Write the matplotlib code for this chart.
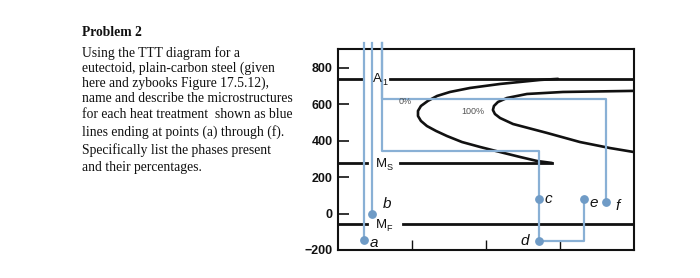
import matplotlib
matplotlib.use("Agg")
import matplotlib.pyplot as plt

# ---------------- data ----------------
# Transformation start curve (0%): time (s), temperature (deg C)
start_time = [940, 537, 155, 60.8, 32.6, 21.8, 16.4, 13.2, 12.05, 12.05, 13.2, 15.9,
              21.1, 29.7, 47.4, 83, 155, 288, 489, 780]
start_temp = [740, 734, 712, 690, 668, 646, 619, 591, 564, 536, 509, 481,
              454, 426, 393, 366, 338, 311, 289, 278]
# Transformation finish curve (100%)
finish_time = [10000, 1099, 358, 192, 145, 128, 124, 132, 155, 232, 667, 1862, 4740, 10000]
finish_temp = [674, 668, 657, 635, 613, 591, 569, 547, 525, 492, 443, 393, 360, 338]

A1_temp = 740
Ms_temp = 280
Mf_temp = -55
A1_segments = [(1.0, 2.2), (5.0, 10000)]
Ms_segments = [(1.0, 2.45), (6.9, 780)]
Mf_segments = [(1.0, 2.45), (7.6, 10000)]

# Cooling paths (time s, temperature C)
path_a_time = [2.24, 2.24]
path_a_temp = [937, -145]
path_b_time = [2.88, 2.88]
path_b_temp = [937, 0]
path_f_time = [3.94, 3.94, 4190, 4190]
path_f_temp = [937, 630, 630, 64]
path_cd_time = [3.94, 3.94, 520, 520]
path_cd_temp = [937, 344, 344, -150]
path_e_time = [520, 2110, 2110]
path_e_temp = [-150, -150, 80]

point_names = ["a", "b", "c", "d", "e", "f"]
point_time = [2.24, 2.88, 520, 520, 2110, 4190]
point_temp = [-145, 0, 80, -150, 80, 64]
label_offsets = [(4, -2), (8, 7), (4, 0), (-7, 0), (4, -3), (7, -3)]
label_ha = ["left", "left", "left", "right", "left", "left"]

yticks = [800, 600, 400, 200, 0, -200]
xticks = [10, 100, 1000]

problem_title = "Problem 2"
problem_lines = [
    "Using the TTT diagram for a",
    "eutectoid, plain-carbon steel (given",
    "here and zybooks Figure 17.5.12),",
    "name and describe the microstructures",
    "for each heat treatment  shown as blue",
    "lines ending at points (a) through (f).",
    "Specifically list the phases present",
    "and their percentages.",
]
line_px = [53, 68, 83, 99, 115, 132, 150, 167]

# ---------------- figure ----------------
W, H = 700, 278
fig = plt.figure(figsize=(W / 100, H / 100), dpi=100)
ax = fig.add_axes([338 / W, (H - 250) / H, (634 - 338) / W, (250 - 49) / H])

ax.set_xscale("log")
ax.set_xlim(1, 10000)
ax.set_ylim(-200, 904)

blue = "#89b0d5"
dotc = "#6f9bc6"
black = "#111111"

ax.plot(start_time, start_temp, color=black, lw=1.9, solid_capstyle="round", solid_joinstyle="round")
ax.plot(finish_time, finish_temp, color=black, lw=1.9, solid_capstyle="round", solid_joinstyle="round")
for x0, x1 in A1_segments:
    ax.plot([x0, x1], [A1_temp, A1_temp], color=black, lw=2.0)
for x0, x1 in Ms_segments:
    ax.plot([x0, x1], [Ms_temp, Ms_temp], color=black, lw=2.0)
for x0, x1 in Mf_segments:
    ax.plot([x0, x1], [Mf_temp, Mf_temp], color=black, lw=2.0)

for tt, TT in [(path_a_time, path_a_temp), (path_b_time, path_b_temp),
               (path_f_time, path_f_temp), (path_cd_time, path_cd_temp),
               (path_e_time, path_e_temp)]:
    ax.plot(tt, TT, color=blue, lw=1.6, clip_on=False, zorder=3)

ax.scatter(point_time, point_temp, s=28, color=dotc, zorder=4, clip_on=False)
for n, t, T, off, ha in zip(point_names, point_time, point_temp, label_offsets, label_ha):
    ax.annotate(n, (t, T), xytext=off, textcoords="offset points", ha=ha, va="center",
                fontsize=11, style="italic", family="Liberation Sans", color="#111111")

lab_font = dict(family="Liberation Sans", color="#111111")
ax.text(3.0, A1_temp, "A", fontsize=9.5, ha="left", va="center", **lab_font)
ax.text(3.95, A1_temp - 22, "1", fontsize=6.5, ha="left", va="center", **lab_font)
ax.text(3.2, Ms_temp - 8, "M", fontsize=9.5, ha="left", va="center", **lab_font)
ax.text(4.5, Ms_temp - 28, "S", fontsize=6.5, ha="left", va="center", **lab_font)
ax.text(3.2, Mf_temp - 8, "M", fontsize=9.5, ha="left", va="center", **lab_font)
ax.text(4.5, Mf_temp - 26, "F", fontsize=6.5, ha="left", va="center", **lab_font)
ax.text(8.0, 613, "0%", fontsize=6.5, ha="center", va="center", family="Liberation Sans", color="#555555")
ax.text(66.7, 563, "100%", fontsize=6.5, ha="center", va="center", family="Liberation Sans", color="#555555")

ax.set_yticks(yticks)
ax.set_yticklabels([f"{v}" if v >= 0 else f"\u2212{abs(v)}" for v in yticks])
ax.set_xticks(xticks)
ax.set_xticklabels([])
ax.xaxis.set_minor_locator(matplotlib.ticker.NullLocator())
ax.tick_params(axis="y", direction="in", length=8, width=1.2, pad=4, labelsize=9,
               colors=black)
ax.tick_params(axis="x", direction="in", length=7, width=1.0, colors=black)
for lbl in ax.get_yticklabels():
    lbl.set_family("Liberation Sans")
    lbl.set_weight("bold")
for s in ax.spines.values():
    s.set_linewidth(1.5)
    s.set_color(black)

# left text
fig.text(82 / W, 1 - 32 / H, problem_title, fontsize=9.8, weight="bold",
         family="Liberation Serif", ha="left", va="center", color="#111111")
for line, py in zip(problem_lines, line_px):
    fig.text(82 / W, 1 - py / H, line, fontsize=9.8, family="Liberation Serif",
             ha="left", va="center", color="#111111")

fig.savefig("out.png", dpi=100)
